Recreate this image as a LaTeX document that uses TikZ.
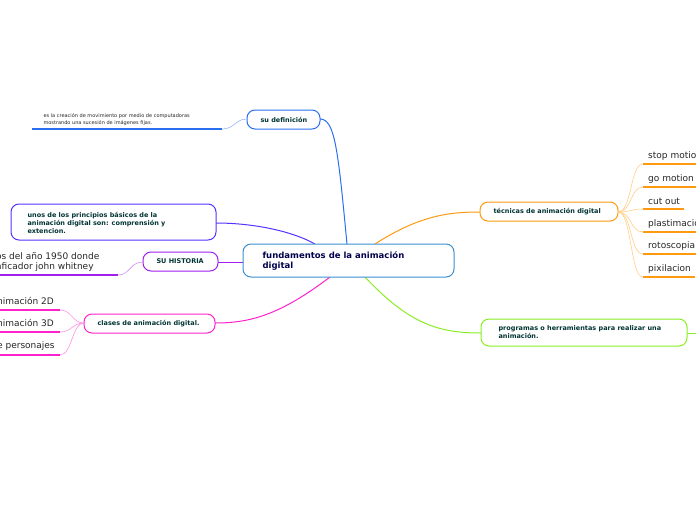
\documentclass[tikz,border=0pt]{standalone}
\usepackage{fontspec}
\setmainfont{DejaVu Sans}
\begin{document}
\begin{tikzpicture}[x=1pt,y=-1pt,
 box/.style={draw,rounded corners=8pt,line width=1pt,fill=white,inner sep=0pt},
 lbl/.style={font=\bfseries\fontsize{6.5}{8}\selectfont,text=teal!40!black,align=left,anchor=west},
 leaf/.style={font=\fontsize{9}{11}\selectfont,text=black!85,anchor=west,inner sep=0pt},
 con/.style={line width=1pt},
 sub/.style={line width=0.6pt}]
\definecolor{cblue}{HTML}{2A6FF0}\definecolor{cviol}{HTML}{5533FF}
\definecolor{cpurp}{HTML}{A020F0}\definecolor{cmag}{HTML}{FF22CC}
\definecolor{corg}{HTML}{FF9A10}\definecolor{cgrn}{HTML}{88EE22}
\definecolor{ccen}{HTML}{3A8FD0}
\useasboundingbox (0,0) rectangle (696,520);
\clip (0,0) rectangle (696,520);
% connectors
\coordinate (ct1) at (347,244);\coordinate (ct2) at (315,244);\coordinate (ct3) at (375,244);
\coordinate (cb1) at (330,277);\coordinate (cb2) at (365,277);
\draw[con,cblue] (ct1) .. controls (338,150) and (335,119) .. (320,119);
\draw[con,cviol] (ct2) .. controls (290,230) and (250,223) .. (216,223);
\draw[con,cpurp] (243,262) -- (218,262);
\draw[con,cmag] (cb1) .. controls (280,315) and (250,323) .. (215,323);
\draw[con,corg] (ct3) .. controls (420,215) and (450,212) .. (480,212);
\draw[con,cgrn] (cb2) .. controls (410,325) and (440,333) .. (481,333);
\draw[con,cgrn] (687,333) -- (700,333);
% nodes
\draw[box,draw=ccen] (243,244) rectangle (454,277);
\node[anchor=west,font=\bfseries\fontsize{8.5}{10}\selectfont,text=blue!30!black,align=left] (cen) at (259,261) {fundamentos de la animación\\digital};
\draw[box,draw=cblue] (247,110) rectangle (320,129);
\node[lbl] (def) at (257,119.5) {su definición};
\draw[box,draw=cviol] (11,204) rectangle (216,240);
\node[lbl] (pri) at (24,222.5) {unos de los principios básicos de la\\animación digital son: comprensión y\\extencion.};
\draw[box,draw=cpurp] (143,252) rectangle (218,271);
\node[lbl] (his) at (153,261.5) {SU HISTORIA};
\draw[box,draw=cmag] (84,314) rectangle (215,333);
\node[lbl] (cla) at (94,323.5) {clases de animación digital.};
\draw[box,draw=corg] (480,202) rectangle (618,221);
\node[lbl] (tec) at (490,211.5) {técnicas de animación digital};
\draw[box,draw=cgrn] (481,319) rectangle (687,346);
\node[lbl] (pro) at (495,332.5) {programas o herramientas para realizar una\\animación.};
% definition leaf
\node[anchor=west,font=\fontsize{5}{7}\selectfont,align=left,text=black!85] (dtx) at (40,120) {es la creación de movimiento por medio de computadoras\\mostrando una sucesión de imágenes fijas.};
\draw[line width=1.3pt,cblue] (32,129) -- (222,129);
\draw[sub,cblue!50] (222,129) .. controls (235,129) and (235,119) .. (247,119);
% historia leaf
\node[leaf] at (-4,256) {os del año 1950 donde};
\node[leaf] at (-4,267) {aficador john whitney};
\draw[line width=1.3pt,cpurp] (0,275) -- (118,275);
\draw[sub,cpurp!50] (118,275) .. controls (130,275) and (130,262) .. (143,262);
% clases leaves
\foreach \t/\y in {nimación 2D/310,nimación 3D/332,e personajes/355}{
 \node[leaf] at (-3,\y-9) {\t};
 \draw[line width=1.3pt,cmag] (0,\y) -- (60,\y);
 \draw[sub,cmag!50] (60,\y) .. controls (72,\y) and (72,323) .. (84,323);
}
% tecnicas leaves
\foreach \t/\y/\e in {stop motion/164/700,go motion/187/700,cut out/209/684,plastimacion/232/700,rotoscopia/254/700,pixilacion/277/695}{
 \node[leaf] at (648,\y-8) {\t};
 \draw[line width=1.3pt,corg] (643,\y) -- (\e,\y);
 \draw[sub,corg!50] (618,212) .. controls (632,212) and (630,\y) .. (643,\y);
}
\end{tikzpicture}
\end{document}
